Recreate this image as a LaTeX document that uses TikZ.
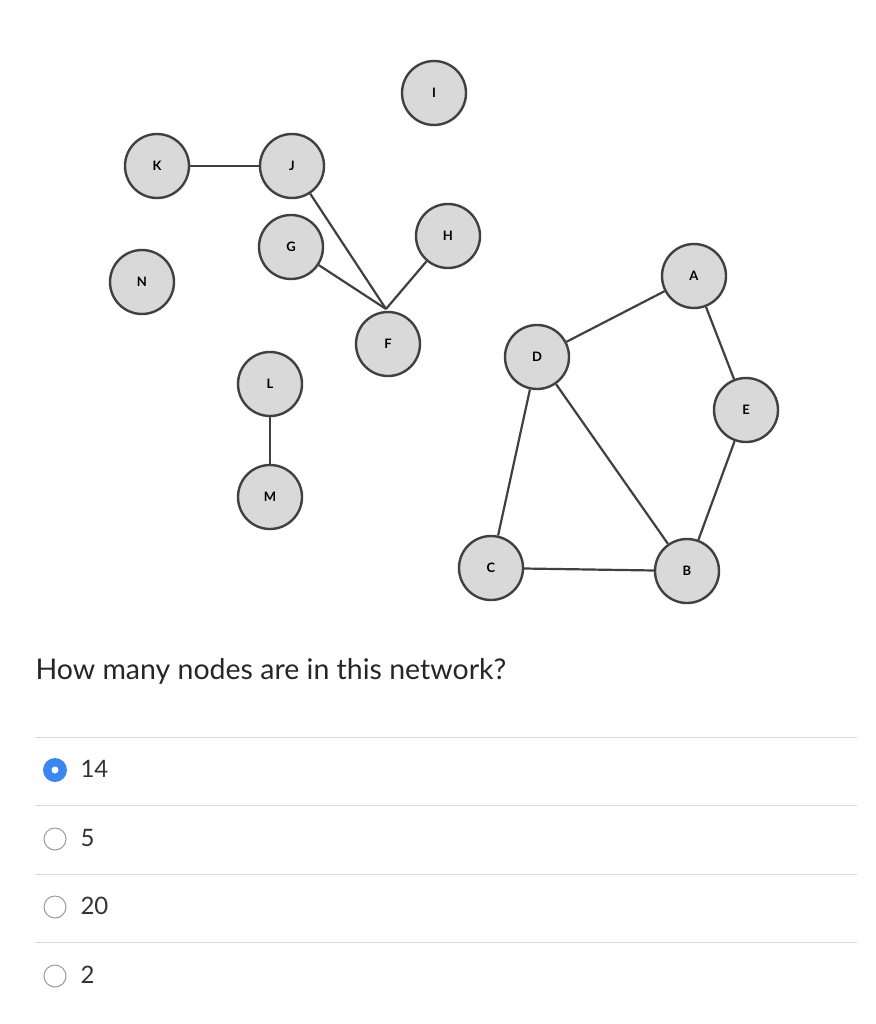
\documentclass[tikz,border=0pt]{standalone}
\usepackage{fontspec}
\setmainfont{Lato}
\definecolor{radioblue}{HTML}{3C86F0}
\begin{document}
\begin{tikzpicture}[x=1pt,y=-1pt,
  vtx/.style={circle,draw=black!75,line width=2.4pt,fill=black!15,minimum size=64pt,inner sep=0pt,font=\fontsize{13}{13}\selectfont\bfseries},
  edge/.style={draw=black!75,line width=2.2pt},
  sep/.style={draw=black!15,line width=1pt},
  radio/.style={circle,draw=black!40,line width=1pt,minimum size=22pt,inner sep=0pt},
  opt/.style={anchor=west,font=\fontsize{24}{24}\selectfont,text=black!80}]
\useasboundingbox (0,0) rectangle (875,1024);
\node[vtx] (I) at (434,93) {I};
\node[vtx] (K) at (157,166) {K};
\node[vtx] (J) at (292,166) {J};
\node[vtx] (G) at (291,247) {G};
\node[vtx] (H) at (448,236) {H};
\node[vtx] (N) at (142,282) {N};
\node[vtx] (A) at (694,276) {A};
\node[vtx] (F) at (388,344) {F};
\node[vtx] (D) at (537,357) {D};
\node[vtx] (L) at (270,384) {L};
\node[vtx] (E) at (746,410) {E};
\node[vtx] (M) at (270,497) {M};
\node[vtx] (C) at (491,568) {C};
\node[vtx] (B) at (687,571) {B};
\coordinate (Fc) at (386,309);
\draw[edge] (K) -- (J);
\draw[edge] (J) -- (Fc);
\draw[edge] (G) -- (Fc);
\draw[edge] (H) -- (Fc);
\draw[edge] (L) -- (M);
\draw[edge] (D) -- (A);
\draw[edge] (A) -- (E);
\draw[edge] (E) -- (B);
\draw[edge] (D) -- (B);
\draw[edge] (D) -- (C);
\draw[edge] (C) -- (B);
\node[anchor=west,font=\fontsize{28.5}{28.5}\selectfont,text=black!85] (Q) at (32,671) {How many nodes are in this network?};
\coordinate (l1a) at (35,737); \coordinate (l1b) at (857,737);
\coordinate (l2a) at (35,805); \coordinate (l2b) at (857,805);
\coordinate (l3a) at (35,874); \coordinate (l3b) at (857,874);
\coordinate (l4a) at (35,942); \coordinate (l4b) at (857,942);
\draw[sep] (l1a) -- (l1b);
\draw[sep] (l2a) -- (l2b);
\draw[sep] (l3a) -- (l3b);
\draw[sep] (l4a) -- (l4b);
\node[circle,fill=radioblue,minimum size=24pt,inner sep=0pt] (r1) at (55,770) {};
\node[circle,fill=white,minimum size=7pt,inner sep=0pt] (r1d) at (r1) {};
\node[radio] (r2) at (55,839) {};
\node[radio] (r3) at (55,907) {};
\node[radio] (r4) at (55,976) {};
\node[opt] (o1) at (77,769) {14};
\node[opt] (o2) at (77,838) {5};
\node[opt] (o3) at (77,906) {20};
\node[opt] (o4) at (77,975) {2};
\end{tikzpicture}
\end{document}
